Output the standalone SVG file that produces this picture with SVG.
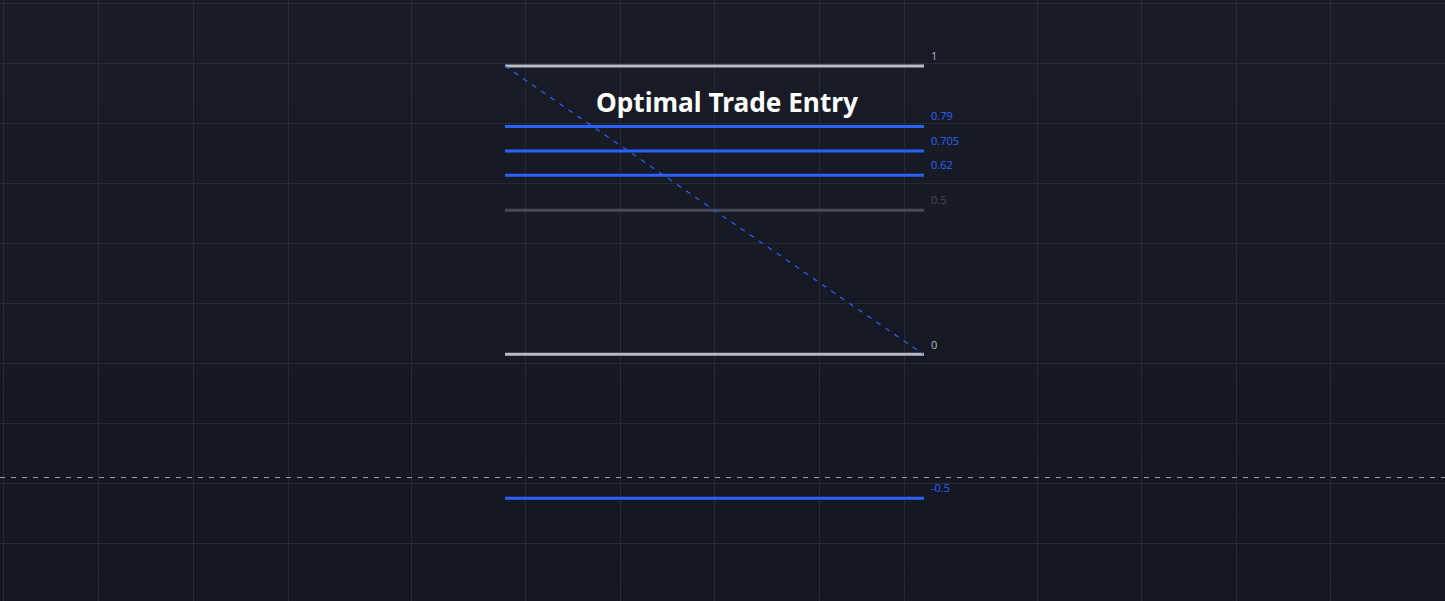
<svg xmlns="http://www.w3.org/2000/svg" width="1445" height="601" viewBox="0 0 1445 601">
  <defs>
    <linearGradient id="bg" x1="0" y1="0" x2="0" y2="1">
      <stop offset="0" stop-color="#191c27"/>
      <stop offset="1" stop-color="#131722"/>
    </linearGradient>
    <style>
      .grid line { stroke: #262a35; stroke-width: 1; }
      .lvl { stroke-width: 3; stroke-linecap: butt; }
      .blue { stroke: #2962ff; }
      .white { stroke: #b8bbc3; }
      .mid { stroke: #474a54; }
      .lbl { font-family: "Open Sans", "Liberation Sans", sans-serif; font-size: 11px; }
      .tb { fill: #2962ff; }
      .tw { fill: #b2b5be; }
      .tg { fill: #474a54; }
      .title { font-family: "Noto Sans", "Open Sans", "DejaVu Sans", sans-serif; font-weight: bold; font-size: 27px; fill: #ffffff; }
    </style>
  </defs>
  <rect width="1445" height="601" fill="url(#bg)"/>
  <g id="grid" class="grid">
    <line x1="3.5" y1="0" x2="3.5" y2="601"/>
    <line x1="98.5" y1="0" x2="98.5" y2="601"/>
    <line x1="193.5" y1="0" x2="193.5" y2="601"/>
    <line x1="288.5" y1="0" x2="288.5" y2="601"/>
    <line x1="411.5" y1="0" x2="411.5" y2="601"/>
    <line x1="525.5" y1="0" x2="525.5" y2="601"/>
    <line x1="620.5" y1="0" x2="620.5" y2="601"/>
    <line x1="714.5" y1="0" x2="714.5" y2="601"/>
    <line x1="819.5" y1="0" x2="819.5" y2="601"/>
    <line x1="904.5" y1="0" x2="904.5" y2="601"/>
    <line x1="1037.5" y1="0" x2="1037.5" y2="601"/>
    <line x1="1141.5" y1="0" x2="1141.5" y2="601"/>
    <line x1="1236.5" y1="0" x2="1236.5" y2="601"/>
    <line x1="1330.5" y1="0" x2="1330.5" y2="601"/>
    <line x1="0" y1="3.5" x2="1445" y2="3.5"/>
    <line x1="0" y1="63.5" x2="1445" y2="63.5"/>
    <line x1="0" y1="123.5" x2="1445" y2="123.5"/>
    <line x1="0" y1="183.5" x2="1445" y2="183.5"/>
    <line x1="0" y1="243.5" x2="1445" y2="243.5"/>
    <line x1="0" y1="303.5" x2="1445" y2="303.5"/>
    <line x1="0" y1="363.5" x2="1445" y2="363.5"/>
    <line x1="0" y1="423.5" x2="1445" y2="423.5"/>
    <line x1="0" y1="483.5" x2="1445" y2="483.5"/>
    <line x1="0" y1="543.5" x2="1445" y2="543.5"/>
  </g>
  <g id="crosshair">
    <line x1="0" y1="477.5" x2="1445" y2="477.5" stroke="#9a9da6" stroke-width="1" stroke-dasharray="5 6"/>
  </g>
  <g id="level-1">
    <line class="lvl white" x1="505" y1="66" x2="924" y2="66"/>
    <text class="lbl tw" x="931" y="60">1</text>
  </g>
  <g id="level-079">
    <line class="lvl blue" x1="505" y1="126.5" x2="924" y2="126.5"/>
    <text class="lbl tb" x="931" y="120">0.79</text>
  </g>
  <g id="level-0705">
    <line class="lvl blue" x1="505" y1="151" x2="924" y2="151"/>
    <text class="lbl tb" x="931" y="144.5">0.705</text>
  </g>
  <g id="level-062">
    <line class="lvl blue" x1="505" y1="175.3" x2="924" y2="175.3"/>
    <text class="lbl tb" x="931" y="168.5">0.62</text>
  </g>
  <g id="level-05">
    <line class="lvl mid" x1="505" y1="210.3" x2="924" y2="210.3"/>
    <text class="lbl tg" x="931" y="203.5">0.5</text>
  </g>
  <g id="level-0">
    <line class="lvl white" x1="505" y1="354.3" x2="924" y2="354.3"/>
    <text class="lbl tw" x="931" y="348.5">0</text>
  </g>
  <g id="level-neg05">
    <line class="lvl blue" x1="505" y1="498.3" x2="924" y2="498.3"/>
    <text class="lbl tb" x="931" y="492">-0.5</text>
  </g>
  <g id="title">
    <text class="title" x="727" y="111.5" text-anchor="middle" textLength="262" lengthAdjust="spacingAndGlyphs">Optimal Trade Entry</text>
  </g>
  <g id="connectors">
    <line x1="505" y1="66" x2="923" y2="354" stroke="#2962ff" stroke-width="1.2" stroke-dasharray="5 6"/>
  </g>
</svg>
